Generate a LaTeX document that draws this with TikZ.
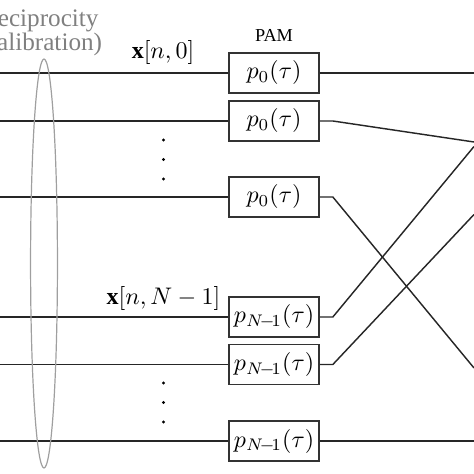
\documentclass[tikz,border=0pt]{standalone}
\usepackage{fontspec}
\setmainfont{Liberation Serif}
\usetikzlibrary{positioning}
\tikzset{
  pam/.style={draw=black!80, line width=0.7pt, minimum width=37.5pt, minimum height=16.7pt, inner sep=0pt},
  wire/.style={black!85, line width=0.6pt},
  dot/.style={fill=black, radius=0.7pt}
}

\begin{document}
\begin{tikzpicture}[x=0.41667pt,y=-0.41667pt]
    \useasboundingbox (0,0) rectangle (474,474);
    % PAM filter boxes
    \node[pam] (b1) at (274,73) {$p_0(\tau)$};
    \node[pam] (b2) at (274,121) {$p_0(\tau)$};
    \node[pam] (b3) at (274,197) {$p_0(\tau)$};
    \node[pam] (b4) at (274,317) {$p_{N\!-\!1}(\tau)$};
    \node[pam] (b5) at (274,364.5) {$p_{N\!-\!1}(\tau)$};
    \node[pam] (b6) at (274,441) {$p_{N\!-\!1}(\tau)$};
    \node[anchor=base, font=\fontsize{7.6}{9}\selectfont] (pam) at (274,42) {PAM};
    % inputs
    \coordinate (i1) at (-5,73);
    \coordinate (i2) at (-5,121);
    \coordinate (i3) at (-5,197);
    \coordinate (i4) at (-5,317);
    \coordinate (i5) at (-5,364.5);
    \coordinate (i6) at (-5,441);
    \draw[wire] (i1)--(b1);
    \draw[wire] (i2)--(b2);
    \draw[wire] (i3)--(b3);
    \draw[wire] (i4)--(b4);
    \draw[wire] (i5)--(b5);
    \draw[wire] (i6)--(b6);
    \node[anchor=base] (x0) at (163,59) {$\mathbf{x}[n,0]$};
    \node[anchor=base] (xN) at (163.5,305) {$\mathbf{x}[n,N-1]$};
    % vertical dots
    \fill[dot] (163.5,140) circle;
    \fill[dot] (163.5,159.5) circle;
    \fill[dot] (163.5,179) circle;
    \fill[dot] (163.5,383) circle;
    \fill[dot] (163.5,402.5) circle;
    \fill[dot] (163.5,422) circle;
    % outputs, crossing
    \coordinate (o1) at (480,73);
    \coordinate (o2) at (474,142);
    \coordinate (o3) at (474,368);
    \coordinate (o4) at (474,146.5);
    \coordinate (o5) at (474,214.5);
    \coordinate (o6) at (480,441);
    \draw[wire] (b1)--(o1);
    \draw[wire] (b2.east)--++(13,0)--(o2);
    \draw[wire] (b3.east)--++(13,0)--(o3);
    \draw[wire] (b4.east)--++(13,0)--(o4);
    \draw[wire] (b5.east)--++(13,0)--(o5);
    \draw[wire] (b6)--(o6);
    % calibration
    \draw[gray!75, line width=0.5pt] (44,263.5) ellipse [x radius=5.6pt, y radius=85.2pt];
    \node[gray, anchor=north, inner sep=0pt, align=center, font=\fontsize{10.5}{10}\selectfont] (cal) at (44,9) {reciprocity\\calibration)};
\end{tikzpicture}
\end{document}
